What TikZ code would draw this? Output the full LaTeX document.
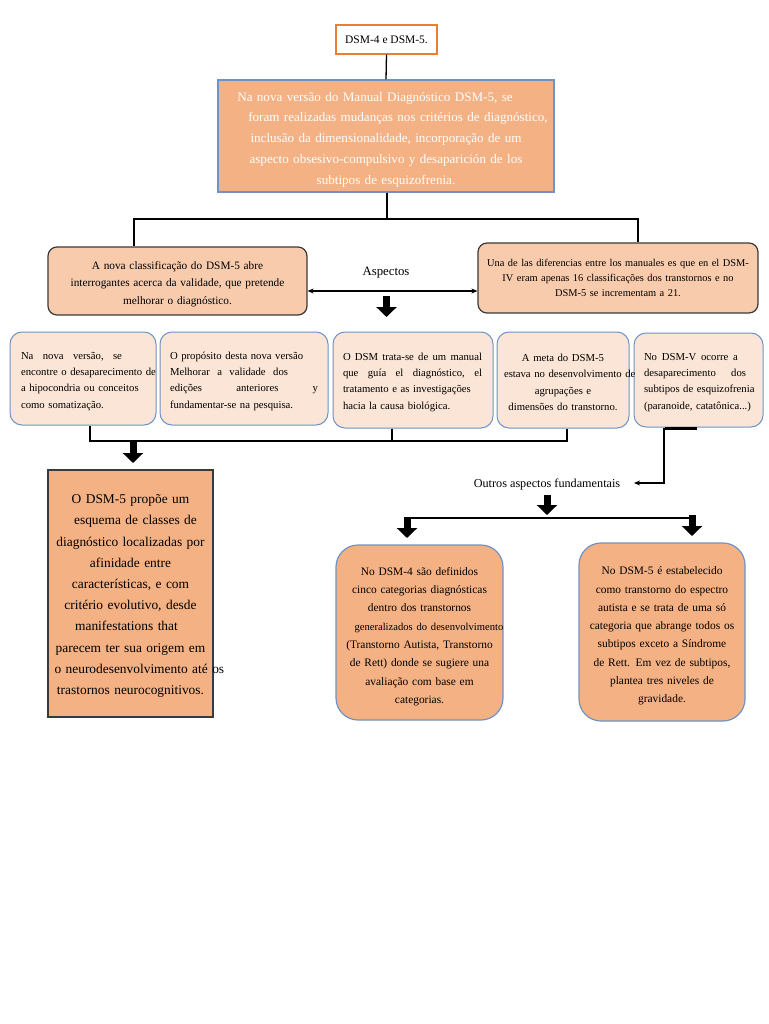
\documentclass[tikz,border=0pt]{standalone}
\usepackage{fontspec}
\setmainfont{Liberation Serif}
\usetikzlibrary{arrows.meta}
\definecolor{salmon}{HTML}{F4B183}
\definecolor{peach}{HTML}{F8CBAD}
\definecolor{pale}{HTML}{FBE5D6}
\definecolor{bord}{HTML}{6F93C6}
\definecolor{oran}{HTML}{ED7D31}
\definecolor{dark}{HTML}{3A3A3A}
\newcommand{\spread}[2]{\leavevmode\hbox to #1{#2}}
\newcommand{\lift}[1]{\rule{0pt}{#1}}
\tikzset{
  conn/.style={line width=1.3pt, draw=black},
  blockarr/.style={line width=7pt, -{Triangle[length=10pt,width=20pt]}},
  tip/.tip={Stealth[length=6pt,width=5pt]},
  topbox/.style={draw=oran, fill=white, line width=1.2pt, minimum width=101pt, minimum height=29pt, inner sep=0pt, font=\fontsize{11.5}{14}\selectfont},
  bigbox/.style={draw=bord, fill=salmon, line width=1.2pt, minimum width=336pt, minimum height=112pt, inner sep=0pt, text width=330pt, align=center, text=white, font=\fontsize{13.1}{20.8}\selectfont},
  midbox/.style={draw=dark, fill=peach, line width=1.2pt, rounded corners=9pt, inner sep=0pt, align=center},
  rowbox/.style={draw=bord, fill=pale, line width=1pt, rounded corners=12pt, inner sep=0pt, font=\fontsize{10.7}{16.2}\selectfont},
  lowbox/.style={draw=bord, fill=salmon, line width=1.2pt, rounded corners=22pt, inner sep=0pt, align=center, font=\fontsize{11.4}{18.3}\selectfont},
  label/.style={inner sep=2pt}
}
\begin{document}
\begin{tikzpicture}[x=1pt,y=-1pt]
\fill[white] (0,0) rectangle (768,1024);
\useasboundingbox (0,0) rectangle (768,1024);

\node[topbox] (top) at (386.5,39.5) {DSM-4 e DSM-5.};

\node[bigbox] (big) at (386,136) {\lift{16pt}\mbox{Na nova versão do Manual Diagnóstico DSM-5, se\hspace*{22pt}}\\
\mbox{\hspace*{24pt}foram realizadas mudanças nos critérios de diagnóstico,}\\
\mbox{inclusão da dimensionalidade, incorporação de um}\\
\mbox{aspecto obsesivo-compulsivo y desaparición de los}\\
\mbox{subtipos de esquizofrenia.}};

\node[midbox, minimum width=259pt, minimum height=68pt, text width=250pt, font=\fontsize{11.3}{17.5}\selectfont] (A) at (177.5,281) {\lift{14pt}\mbox{A nova classificação do DSM-5 abre}\\
\mbox{interrogantes acerca da validade, que pretende}\\
\mbox{melhorar o diagnóstico.}};

\node[midbox, minimum width=280pt, minimum height=70pt, text width=272pt, font=\fontsize{10.4}{15}\selectfont] (R) at (618,278) {\mbox{Una de las diferencias entre los manuales es que en el DSM-}\\
\mbox{IV eram apenas 16 classificações dos transtornos e no}\\
\mbox{DSM-5 se incrementam a 21.}};

\node[label, font=\fontsize{12.8}{15}\selectfont] (asp) at (386,273) {Aspectos};

\node[rowbox, minimum width=146pt, minimum height=93pt, text width=124pt, align=left] (b1) at (83,378.5) {\lift{13pt}\spread{101pt}{Na\hfill nova\hfill versão,\hfill se}\\
\mbox{encontre o desaparecimento de}\\
\mbox{a hipocondria ou conceitos}\\
\mbox{como somatização.}};

\node[rowbox, minimum width=168pt, minimum height=93pt, text width=148pt, align=left] (b2) at (244,378.5) {\lift{13pt}\mbox{O propósito desta nova versão}\\
\spread{118pt}{Melhorar\hfill a\hfill validade\hfill dos}\\
\spread{148pt}{edições\hfill anteriores\hfill y}\\
\mbox{fundamentar-se na pesquisa.}};

\node[rowbox, minimum width=160pt, minimum height=96pt, text width=140pt, align=left] (b3) at (413,380) {\lift{12pt}\spread{139pt}{O\hfill DSM\hfill trata-se\hfill de\hfill um\hfill manual}\\
\spread{139pt}{que\hfill guía\hfill el\hfill diagnóstico,\hfill el}\\
\mbox{tratamento e as investigações}\\
\mbox{hacia la causa biológica.}};

\node[rowbox, minimum width=129pt, minimum height=94pt, text width=109pt, align=left] (b5) at (698.5,380) {\lift{12pt}\spread{94pt}{No\hfill DSM-V\hfill ocorre\hfill a}\\
\spread{102pt}{desaparecimento\hfill dos}\\
\mbox{subtipos de esquizofrenia}\\
\mbox{(paranoide, catatônica...)}};

\node[rowbox, minimum width=132pt, minimum height=96pt, text width=124pt, align=center] (b4) at (563,380) {\lift{12pt}\mbox{A meta do DSM-5}\\
\mbox{\hspace*{3pt}estava no desenvolvimento de}\\
\mbox{agrupações e}\\
\mbox{dimensões do transtorno.}};

\node[draw=dark, fill=salmon, line width=1.2pt, minimum width=165pt, minimum height=247pt, inner sep=0pt, text width=160pt, align=center, font=\fontsize{13.4}{21.2}\selectfont] (L) at (130.5,593.5) {\lift{14pt}\mbox{O DSM-5 propõe um}\\
\mbox{\hspace*{10pt}esquema de classes de}\\
\mbox{diagnóstico localizadas por}\\
\mbox{afinidade entre}\\
\mbox{características, e com}\\
\mbox{critério evolutivo, desde}\\
\mbox{manifestations that\hspace*{8pt}}\\
\mbox{parecem ter sua origem em}\\
\mbox{\hspace*{4pt}o neurodesenvolvimento até os}\\
\mbox{trastornos neurocognitivos.}};

\node[label, font=\fontsize{12.2}{15}\selectfont] (out) at (547,484) {Outros aspectos fundamentais};

\node[lowbox, minimum width=167pt, minimum height=175pt, text width=162pt] (d4) at (419.5,632.5) {\lift{16pt}\mbox{No DSM-4 são definidos}\\
\mbox{cinco categorias diagnósticas}\\
\mbox{dentro dos transtornos}\\
\mbox{\hspace*{16pt}\fontsize{10.6}{18.3}\selectfont generalizados do desenvolvimento}\\
\mbox{(Transtorno Autista, Transtorno}\\
\mbox{de Rett) donde se sugiere una}\\
\mbox{avaliação com base em}\\
\mbox{categorias.}};

\node[lowbox, minimum width=166pt, minimum height=178pt, text width=160pt] (d5) at (662,632) {\lift{16pt}\mbox{No DSM-5 é estabelecido}\\
\mbox{como transtorno do espectro}\\
\mbox{autista e se trata de uma só}\\
\mbox{categoria que abrange todos os}\\
\mbox{subtipos exceto a Síndrome}\\
\mbox{de Rett. Em vez de subtipos,}\\
\mbox{plantea tres niveles de}\\
\mbox{gravidade.}};

% connectors top
\coordinate (t0) at (387,219);
\coordinate (tl) at (134,219);
\coordinate (tr) at (638,219);
\draw[conn] (top.south) -- (big.north);
\draw[conn] (big.south -| t0) -- (t0);
\draw[conn] (A.north -| tl) -- (tl) -- (tr) -- (R.north -| tr);

% double arrow
\coordinate (dd) at (390,291);
\draw[conn, tip-tip] (A.east |- dd) -- (R.west |- dd);

% aspect block arrow
\coordinate (a1) at (386.5,296);
\coordinate (a2) at (386.5,317);
\draw[blockarr] (a1) -- (a2);

% bracket under row
\coordinate (j1) at (90,441);
\coordinate (j3) at (392,441);
\coordinate (j4) at (567,441);
\draw[conn] (b1.south -| j1) -- (j1) -- (j4) -- (b4.south -| j4);
\draw[conn] (b3.south -| j3) -- (j3);
\coordinate (k1) at (133,440);
\coordinate (k2) at (133,463);
\draw[blockarr] (k1) -- (k2);

% from b5 to outros
\coordinate (m1) at (664,483);
\coordinate (m0) at (634,483);
\coordinate (s1) at (665,428);
\coordinate (s2) at (697,428);
\draw[line width=3pt] (s1) -- (s2);
\draw[conn, -tip] (b5.south -| m1) -- (m1) -- (m0);

% outros arrows
\coordinate (o1) at (547,495);
\coordinate (o2) at (547,515);
\draw[blockarr] (o1) -- (o2);
\coordinate (h1) at (407,518);
\coordinate (h2) at (692,518);
\draw[conn] (h1) -- (h2);
\coordinate (p1) at (407,517);
\coordinate (p2) at (407,538);
\coordinate (q1) at (692,515);
\coordinate (q2) at (692,536);
\draw[blockarr] (p1) -- (p2);
\draw[blockarr] (q1) -- (q2);
\end{tikzpicture}
\end{document}
